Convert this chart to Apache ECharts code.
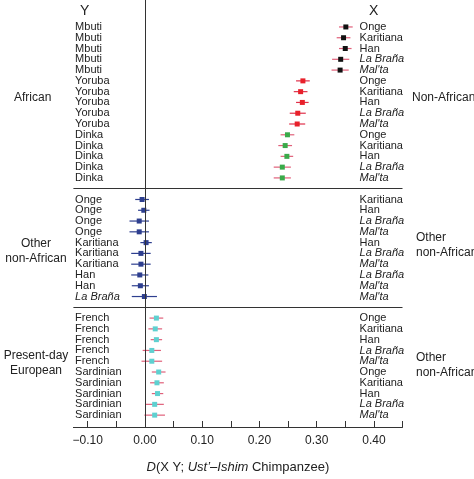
<!DOCTYPE html>
<html><head><meta charset="utf-8">
<script src="https://cdn.jsdelivr.net/npm/echarts@6/dist/echarts.min.js"></script>
<style>html,body{margin:0;padding:0;background:#fff}#c{width:474px;height:479px}</style>
</head><body><div id="c"></div>
<script>
const yNames = ['Mbuti','Mbuti','Mbuti','Mbuti','Mbuti','Yoruba','Yoruba','Yoruba','Yoruba','Yoruba','Dinka','Dinka','Dinka','Dinka','Dinka',
 'Onge','Onge','Onge','Onge','Karitiana','Karitiana','Karitiana','Han','Han','La Braña',
 'French','French','French','French','French','Sardinian','Sardinian','Sardinian','Sardinian','Sardinian'];
const xNames = ['Onge','Karitiana','Han','La Braña',"Mal'ta",'Onge','Karitiana','Han','La Braña',"Mal'ta",'Onge','Karitiana','Han','La Braña',"Mal'ta",
 'Karitiana','Han','La Braña',"Mal'ta",'Han','La Braña',"Mal'ta",'La Braña',"Mal'ta","Mal'ta",
 'Onge','Karitiana','Han','La Braña',"Mal'ta",'Onge','Karitiana','Han','La Braña',"Mal'ta"];
const dValues = [0.351,0.347,0.350,0.342,0.341, 0.276,0.272,0.275,0.267,0.266, 0.249,0.245,0.248,0.240,0.240,
 -0.005,-0.002,-0.010,-0.010,0.002,-0.007,-0.007,-0.009,-0.008,-0.001,
 0.020,0.018,0.020,0.012,0.012,0.024,0.021,0.022,0.017,0.017];
const errors = [0.012,0.012,0.011,0.015,0.015, 0.012,0.012,0.011,0.014,0.014, 0.012,0.012,0.011,0.015,0.015,
 0.012,0.010,0.017,0.017,0.010,0.017,0.017,0.015,0.015,0.022,
 0.012,0.012,0.010,0.016,0.018,0.012,0.012,0.010,0.016,0.018];
const groupOf = [0,0,0,0,0,1,1,1,1,1,2,2,2,2,2,3,3,3,3,3,3,3,3,3,3,4,4,4,4,4,4,4,4,4,4];
const markerColors = ['#111111','#e8202a','#3aaa4a','#2e3f8f','#5fd0d0'];
const barColors = ['#e0607a','#e0304a','#e0607a','#2e3f8f','#e0607a'];
const xTicks = [-0.10,-0.05,0,0.05,0.10,0.15,0.20,0.25,0.30,0.35,0.40,0.45];
const xLabels = [-0.10,0,0.10,0.20,0.30,0.40];
const italicNames = ['La Braña',"Mal'ta"];

function rowOf(i){ return i < 15 ? i : (i < 25 ? i + 1 : i + 2); }
const data = dValues.map((v,i)=>[v, rowOf(i), errors[i], i]);
const font = '"Liberation Sans", Arial, sans-serif';
const gt = (x,y,text,align)=>({type:'text',x:x,y:y,style:{text:text,fontSize:12,fontFamily:font,fill:'#222',align:align||'left',lineHeight:15}});

const chart = echarts.init(document.getElementById('c'));
chart.setOption({
  animation:false,
  grid:{left:73.4,right:71.5,top:0,bottom:51},
  xAxis:{type:'value',min:-0.125,max:0.45,splitLine:{show:false},
    axisLine:{show:true,onZero:false,lineStyle:{color:'#333'}},
    axisTick:{show:true,inside:true,length:6,customValues:xTicks,lineStyle:{color:'#333'}},
    axisLabel:{customValues:xLabels,color:'#222',fontSize:12,fontFamily:font,margin:8,
      formatter:v=>(v<0?'−':'')+Math.abs(v).toFixed(2)},
    name:'{i|D}(X Y; {i|Ust\u2019–Ishim} Chimpanzee)',nameLocation:'middle',nameGap:34,
    nameTextStyle:{fontSize:13,color:'#222',fontFamily:font,rich:{i:{fontStyle:'italic',fontSize:13,fontFamily:font,color:'#222'}}}},
  yAxis:{type:'value',inverse:true,min:-2.5,max:37.1,show:false},
  series:[{
    type:'custom',
    data:data,
    renderItem:function(params,api){
      const v=api.value(0),r=api.value(1),e=api.value(2),i=api.value(3);
      const p=api.coord([v,r]),a=api.coord([v-e,r]),b=api.coord([v+e,r]);
      const left=api.coord([-0.122,r]), right=api.coord([0.375,r]);
      const g=groupOf[i];
      const ital=n=>italicNames.indexOf(n)>=0?'italic':'normal';
      return {type:'group',children:[
        {type:'line',shape:{x1:a[0],y1:p[1],x2:b[0],y2:p[1]},style:{stroke:barColors[g],lineWidth:1.2}},
        {type:'rect',shape:{x:p[0]-2.5,y:p[1]-2.5,width:5,height:5},style:{fill:markerColors[g]}},
        {type:'text',style:{x:left[0],y:p[1],text:yNames[i],fontSize:11,fontFamily:font,fontStyle:ital(yNames[i]),fill:'#222',verticalAlign:'middle',align:'left'}},
        {type:'text',style:{x:right[0],y:p[1],text:xNames[i],fontSize:11,fontFamily:font,fontStyle:ital(xNames[i]),fill:'#222',verticalAlign:'middle',align:'left'}}
      ]};
    },
    markLine:{silent:true,symbol:'none',label:{show:false},lineStyle:{color:'#333',type:'solid',width:1},
      data:[{xAxis:0},{yAxis:15},{yAxis:26}]}
  }],
  graphic:[
    {type:'text',x:80,y:4,style:{text:'Y',fontSize:14,fontFamily:font,fill:'#222'}},
    {type:'text',x:369,y:4,style:{text:'X',fontSize:14,fontFamily:font,fill:'#222'}},
    gt(14,90,'African'),
    gt(412,90,'Non-African'),
    gt(36,236,'Other\nnon-African','center'),
    gt(416,230,'Other\nnon-African'),
    gt(36,348,'Present-day\nEuropean','center'),
    gt(416,350,'Other\nnon-African')
  ]
});
</script></body></html>
